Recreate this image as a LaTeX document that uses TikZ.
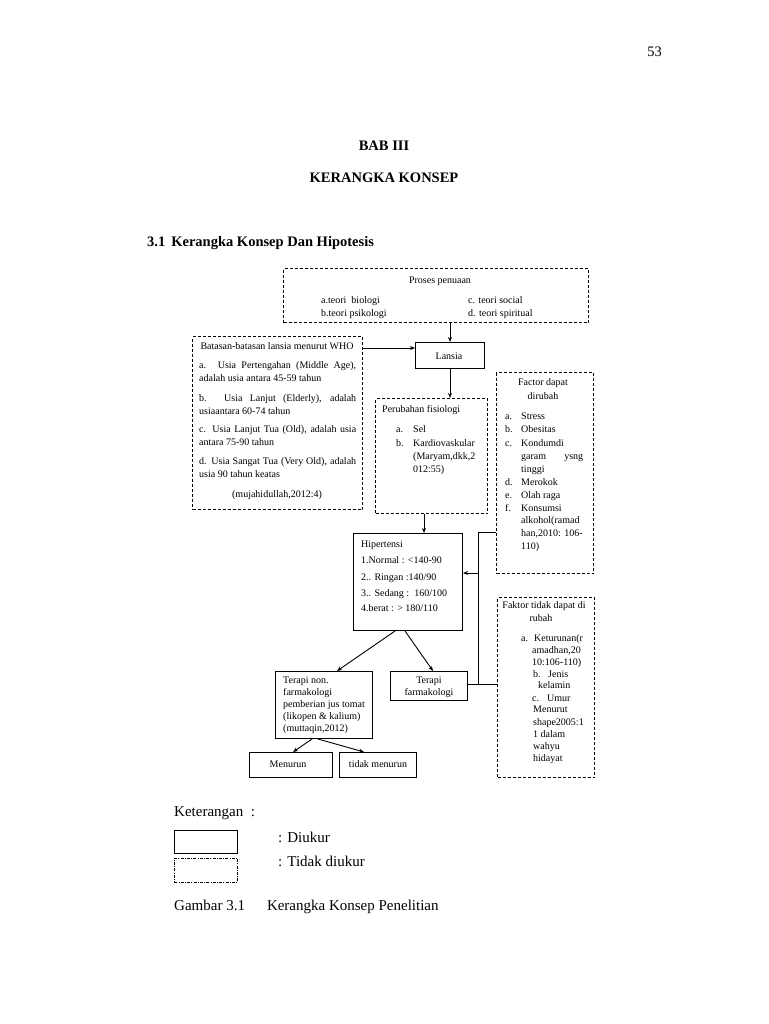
\documentclass[tikz,border=0pt]{standalone}
\usepackage{fontspec}
\setmainfont{Liberation Serif}
\usetikzlibrary{arrows.meta}
\newcommand\dfont{\fontsize{10}{12}\selectfont}
\tikzset{
  sbox/.style={draw, line width=1pt, inner sep=0pt},
  dbox/.style={draw, line width=1pt, dash pattern=on 3pt off 2pt, inner sep=0pt},
  tx/.style={inner sep=0pt, anchor=base west, font=\dfont},
  tc/.style={inner sep=0pt, anchor=base, font=\dfont},
  arr/.style={line width=0.9pt, -{Stealth[length=5pt,width=4pt]}},
  ln/.style={line width=0.9pt},
  head/.style={inner sep=0pt, anchor=base, font=\fontsize{14.5}{17}\selectfont\bfseries},
  body/.style={inner sep=0pt, anchor=base west, font=\fontsize{15}{18}\selectfont},
}
\begin{document}
\begin{tikzpicture}[x=1pt,y=-1pt]
\fill[white] (0,0) rectangle (768,1024);
\useasboundingbox (0,0) rectangle (768,1024);

% page headings
\node[inner sep=0pt, anchor=base east, font=\fontsize{14.5}{17}\selectfont] (pg) at (662,57) {53};
\node[head] (bab) at (384,151) {BAB III};
\node[head] (kk) at (384,183) {KERANGKA KONSEP};
\node[head, anchor=base west] (sec) at (147,247) {3.1\hspace{6pt}Kerangka Konsep Dan Hipotesis};

% boxes
\node[dbox, anchor=north west, minimum width=305pt, minimum height=54pt] (top) at (283,268) {};
\node[dbox, anchor=north west, minimum width=170pt, minimum height=173pt] (who) at (192,336) {};
\node[sbox, anchor=north west, minimum width=69pt, minimum height=26pt] (lan) at (415,342) {};
\node[dbox, anchor=north west, minimum width=112pt, minimum height=115pt] (per) at (375,398) {};
\node[dbox, anchor=north west, minimum width=97pt, minimum height=201pt] (fac) at (496,372) {};
\node[sbox, anchor=north west, minimum width=109pt, minimum height=97pt] (hip) at (353,533) {};
\node[sbox, anchor=north west, minimum width=97pt, minimum height=67pt] (tnf) at (275,671) {};
\node[sbox, anchor=north west, minimum width=77pt, minimum height=29pt] (tf) at (390,671) {};
\node[dbox, anchor=north west, minimum width=97pt, minimum height=180pt] (ftd) at (497,597) {};
\node[sbox, anchor=north west, minimum width=83pt, minimum height=25pt] (men) at (249,752) {};
\node[sbox, anchor=north west, minimum width=77pt, minimum height=25pt] (tmen) at (339,752) {};

% top box text
\node[tc] (t0) at (440,283) {Proses penuaan};
\node[tx] (t1) at (321,303) {a.teori\ \ biologi};
\node[tx] (t2) at (321,316) {b.teori psikologi};
\node[tx] (t3) at (468,303) {c. teori social};
\node[tx] (t4) at (468,316) {d. teori spiritual};

% WHO box text
\node[tc] (w0) at (277,349) {Batasan-batasan lansia menurut WHO};
\node[tx] (w1) at (199,368) {\makebox[157pt][s]{a. Usia Pertengahan (Middle Age),}};
\node[tx] (w2) at (199,381) {adalah usia antara 45-59 tahun};
\node[tx] (w3) at (199,401) {\makebox[157pt][s]{b. Usia Lanjut (Elderly), adalah}};
\node[tx] (w4) at (199,414) {usiaantara 60-74 tahun};
\node[tx] (w5) at (199,432) {\makebox[157pt][s]{c. Usia Lanjut Tua (Old), adalah usia}};
\node[tx] (w6) at (199,445) {antara 75-90 tahun};
\node[tx] (w7) at (199,464) {\makebox[157pt][s]{d. Usia Sangat Tua (Very Old), adalah}};
\node[tx] (w8) at (199,477) {usia 90 tahun keatas};
\node[tc] (w9) at (277,497) {(mujahidullah,2012:4)};

% Lansia
\node[tc] (l0) at (449,359) {Lansia};

% Perubahan
\node[tx] (p0) at (382,412) {Perubahan fisiologi};
\node[tx] (p1) at (396,432) {a.};
\node[tx] (p2) at (413,432) {Sel};
\node[tx] (p3) at (396,446) {b.};
\node[tx] (p4) at (413,446) {Kardiovaskular};
\node[tx] (p5) at (413,459) {(Maryam,dkk,2};
\node[tx] (p6) at (413,472) {012:55)};

% Factor dapat dirubah
\node[tc] (f0) at (543,385) {Factor dapat};
\node[tc] (f1) at (543,399) {dirubah};
\node[tx] (f2) at (505,419) {a.};
\node[tx] (f3) at (521,419) {Stress};
\node[tx] (f4) at (505,432) {b.};
\node[tx] (f5) at (521,432) {Obesitas};
\node[tx] (f6) at (505,446) {c.};
\node[tx] (f7) at (521,446) {Kondumdi};
\node[tx] (f8) at (521,459) {\makebox[62pt][s]{garam ysng}};
\node[tx] (f9) at (521,472) {tinggi};
\node[tx] (f10) at (505,485) {d.};
\node[tx] (f11) at (521,485) {Merokok};
\node[tx] (f12) at (505,498) {e.};
\node[tx] (f13) at (521,498) {Olah raga};
\node[tx] (f14) at (505,511) {f.};
\node[tx] (f15) at (521,511) {Konsumsi};
\node[tx] (f16) at (521,523) {alkohol(ramad};
\node[tx] (f17) at (521,536) {han,2010: 106-};
\node[tx] (f18) at (521,549) {110)};

% Hipertensi
\node[tx] (h0) at (361,547) {Hipertensi};
\node[tx] (h1) at (361,563) {1.Normal : <140-90};
\node[tx] (h2) at (361,580) {2.. Ringan :140/90};
\node[tx] (h3) at (361,596) {3.. Sedang :\ \ 160/100};
\node[tx] (h4) at (361,611) {4.berat : > 180/110};

% Terapi non farmakologi
\node[tx] (n0) at (283,683) {Terapi non.};
\node[tx] (n1) at (283,695) {farmakologi};
\node[tx] (n2) at (283,707) {pemberian jus tomat};
\node[tx] (n3) at (283,719) {(likopen \& kalium)};
\node[tx] (n4) at (283,731) {(muttaqin,2012)};

% Terapi farmakologi
\node[tc] (r0) at (429,683) {Terapi};
\node[tc] (r1) at (429,695) {farmakologi};

% Faktor tidak dapat di rubah
\node[tc] (g0) at (544,608) {Faktor tidak dapat di};
\node[tc] (g1) at (541,621) {rubah};
\node[tx] (g2) at (521,641) {a.};
\node[tx] (g3) at (534,641) {Keturunan(r};
\node[tx] (g4) at (532,653) {amadhan,20};
\node[tx] (g5) at (532,665) {10:106-110)};
\node[tx] (g6) at (533,677) {b.};
\node[tx] (g7) at (548,677) {Jenis};
\node[tx] (g8) at (538,688) {kelamin};
\node[tx] (g9) at (532,701) {c.};
\node[tx] (g10) at (547,701) {Umur};
\node[tx] (g11) at (533,712) {Menurut};
\node[tx] (g12) at (533,725) {shape2005:1};
\node[tx] (g13) at (533,737) {1 dalam};
\node[tx] (g14) at (533,749) {wahyu};
\node[tx] (g15) at (533,761) {hidayat};

% Menurun
\node[tc] (m0) at (288,767) {Menurun};
\node[tc] (m1) at (378,767) {tidak menurun};

% connectors
\draw[arr] (top.south -| lan.north) -- (lan.north);
\draw[arr] (who.east |- 0,348) -- (lan.west |- 0,348);
\draw[arr] (lan.south) -- (per.north -| lan.south);
\draw[arr] (per.south -| 424,0) -- (hip.north -| 424,0);
\coordinate (j1) at (478,532);
\coordinate (j2) at (478,684);
\coordinate (j3) at (478,573);
\draw[ln] (fac.west |- j1) -- (j1) -- (j2);
\draw[arr] (j3) -- (hip.east |- j3);
\draw[ln] (tf.east |- j2) -- (ftd.west |- j2);
\draw[arr] (hip.south -| 395,0) -- (337,671);
\draw[arr] (hip.south -| 405,0) -- (433,671);
\draw[arr] (tnf.south -| 312,0) -- (293,752);
\draw[arr] (tnf.south -| 318,0) -- (364,752);

% legend
\node[body] (ket) at (174,816) {Keterangan\ \ :};
\node[sbox, anchor=north west, minimum width=63pt, minimum height=23pt] (lg1) at (174,830) {};
\node[draw, inner sep=0pt, dash pattern=on 3pt off 1.2pt on 1pt off 1.2pt, line width=0.8pt, anchor=north west, minimum width=63pt, minimum height=24pt] (lg2) at (174,858) {};
\node[body] (k1) at (278,842) {: Diukur};
\node[body] (k2) at (278,866) {: Tidak diukur};
\node[body] (cap) at (174,910) {Gambar 3.1\hspace{22pt}Kerangka Konsep Penelitian};
\end{tikzpicture}
\end{document}
